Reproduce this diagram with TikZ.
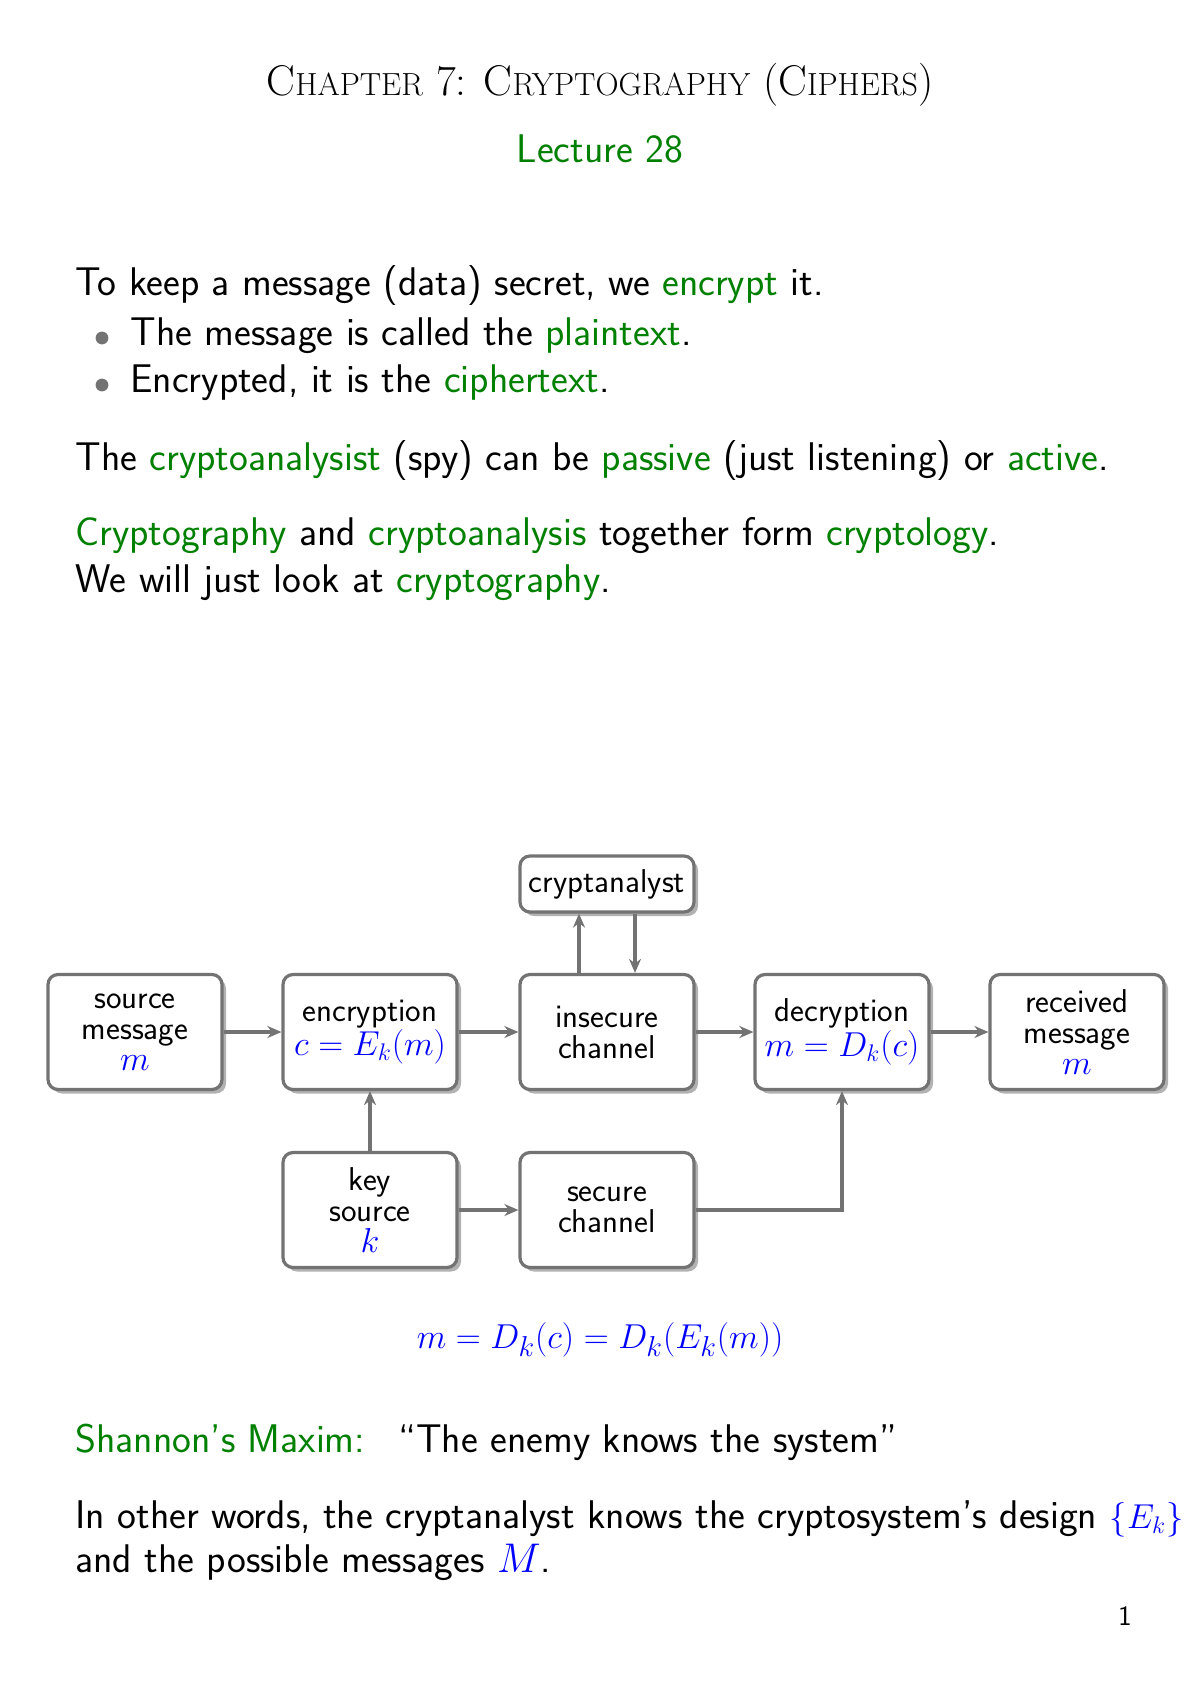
\documentclass[tikz,border=0pt]{standalone}
\usepackage{fontspec}
\setmainfont{Latin Modern Sans}
\newfontfamily\lmr{Latin Modern Roman}
\usetikzlibrary{shadows,arrows.meta}
\definecolor{dg}{rgb}{0,0.5,0}
\definecolor{bx}{gray}{0.45}
\newcommand{\g}[1]{\textcolor{dg}{#1}}
\newcommand{\bm}[1]{\textcolor{blue}{$#1$}}
\newcommand{\sm}[1]{{\fontsize{16}{18}\selectfont #1}}
\begin{document}
\begin{tikzpicture}[x=0.5pt,y=-0.5pt,
 box/.style={draw=bx,line width=1.6pt,rounded corners=5pt,fill=white,minimum width=87pt,minimum height=57.5pt,align=center,inner sep=1pt,font=\fontsize{16.5}{15.5}\selectfont,drop shadow={shadow xshift=2pt,shadow yshift=-2pt,fill=black!30,opacity=1}},
 ar/.style={draw=bx,line width=1.6pt,-{Stealth[length=7pt,width=6pt]}},
 txt/.style={anchor=base west,inner sep=0,font=\fontsize{20}{20}\selectfont}]
\useasboundingbox (0,0) rectangle (1200,1698);
\node[anchor=base,font=\lmr\fontsize{21.5}{24}\selectfont] (t) at (600,95) {C\sm{HAPTER} 7: C\sm{RYPTOGRAPHY} (C\sm{IPHERS})};
\node[anchor=base,font=\fontsize{20}{20}\selectfont,text=dg] (l) at (600,162) {Lecture 28};
\node[txt] (p1) at (75,295) {To keep a message (data) secret, we \g{encrypt} it.};
\node[txt] (b1) at (130,345) {The message is called the \g{plaintext}.};
\node[txt] (b2) at (130,392) {Encrypted, it is the \g{ciphertext}.};
\fill[bx] (102,338) circle (3.2pt) (102,385) circle (3.2pt);
\node[txt] (p2) at (75,470) {The \g{cryptoanalysist} (spy) can be \g{passive} (just listening) or \g{active}.};
\node[txt] (p3) at (75,545) {\g{Cryptography} and \g{cryptoanalysis} together form \g{cryptology}.};
\node[txt] (p4) at (75,592) {We will just look at \g{cryptography}.};
\node[box] (src) at (135,1032) {source\\message\\\bm{m}};
\node[box] (enc) at (370,1032) {encryption\\\bm{c=E_k(m)}};
\node[box] (ins) at (607,1032) {insecure\\channel};
\node[box] (dec) at (842,1032) {decryption\\\bm{m=D_k(c)}};
\node[box] (rec) at (1077,1032) {received\\message\\\bm{m}};
\node[box,minimum height=28pt] (cry) at (607,884) {cryptanalyst};
\node[box] (key) at (370,1210) {key\\source\\\bm{k}};
\node[box] (sec) at (607,1210) {secure\\channel};
\draw[ar] (src) -- (enc);
\draw[ar] (enc) -- (ins);
\draw[ar] (ins) -- (dec);
\draw[ar] (dec) -- (rec);
\draw[ar] (key) -- (enc);
\draw[ar] (key) -- (sec);
\draw[ar] (sec.east) -| (dec.south);
\draw[ar] ([xshift=-14pt]ins.north) -- ([xshift=-14pt]cry.south);
\draw[ar] ([xshift=14pt]cry.south) -- ([xshift=14pt]ins.north);
\node[anchor=base,font=\fontsize{19}{20}\selectfont,text=blue] (eq) at (600,1348) {$m=D_k(c)=D_k(E_k(m))$};
\node[txt] (s1) at (75,1452) {\g{Shannon's Maxim:}};
\node[txt] (s2) at (398,1452) {``The enemy knows the system''};
\node[txt] (o1) at (75,1528) {In other words, the cryptanalyst knows the cryptosystem's design {\fontsize{18.5}{20}\selectfont\bm{\{E_k\}}}};
\node[txt] (o2) at (75,1572) {and the possible messages \bm{M}.};
\node[anchor=base,inner sep=0,font=\fontsize{14}{14}\selectfont] (pg) at (1125,1625) {\textsf{1}};
\end{tikzpicture}
\end{document}
